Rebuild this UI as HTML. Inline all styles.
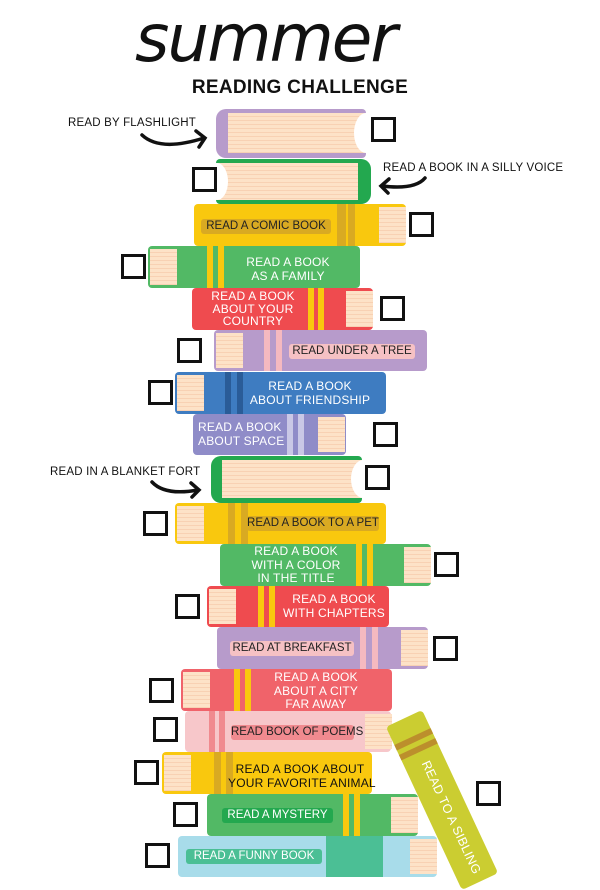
<!DOCTYPE html>
<html><head><meta charset="utf-8"><style>
*{margin:0;padding:0;box-sizing:border-box}
body{width:600px;height:888px;background:#fff;position:relative;overflow:hidden;font-family:"Liberation Sans",sans-serif}
.a{position:absolute}
.b{position:absolute;border-radius:4px}
.pg{position:absolute;top:3px;bottom:3px;width:27px;background:repeating-linear-gradient(#fde2c7 0 3px,#f8d1b3 3px 4px)}
.st{position:absolute;top:0;bottom:0;width:9px}
.cb{position:absolute;width:25px;height:25px;border:3px solid #111;background:#fff}
.t{position:absolute;text-align:center;color:#fff;font-size:12px;line-height:13.5px;letter-spacing:.2px;white-space:nowrap}
.pl{position:absolute;height:15px;border-radius:3px;font-size:11.5px;line-height:15px;text-align:center;color:#222;white-space:nowrap}
.n{position:absolute;font-size:11.5px;color:#111;white-space:nowrap;letter-spacing:.2px}
</style></head><body>

<div class="a" style="left:135px;top:0px;width:260px;text-align:center;font-family:'DejaVu Sans',sans-serif;font-size:66px;font-style:italic;letter-spacing:-2px;color:#111;font-weight:300">summer</div>
<div class="a" style="left:190px;top:77px;width:220px;text-align:center;font-weight:bold;font-size:19px;color:#111;letter-spacing:.3px">READING CHALLENGE</div>

<!-- annotations -->
<div class="n" style="left:68px;top:117px">READ BY FLASHLIGHT</div>
<div class="n" style="left:383px;top:162px">READ A BOOK IN A SILLY VOICE</div>
<div class="n" style="left:50px;top:466px">READ IN A BLANKET FORT</div>
<svg class="a" style="left:0;top:0" width="600" height="888">
<g fill="none" stroke="#111" stroke-width="3.5" stroke-linecap="round">
<path d="M142 135 Q160 152 204 138"/><path d="M196 131 L205 138 L199 147"/>
<path d="M425 178 Q415 190 382 186"/><path d="M389 179 L381 186 L388 193"/>
<path d="M152 482 Q165 496 198 490"/><path d="M191 483 L199 490 L192 497"/>
</g></svg>

<!-- 1 purple -->
<div class="b" style="left:216px;top:109px;width:150px;height:49px;background:#b79bcb;border-radius:10px 4px 4px 10px"></div>
<div class="pg" style="left:228px;top:113px;width:138px;height:40px;bottom:auto"></div>
<div class="a" style="left:354px;top:113px;width:24px;height:40px;background:#fff;border-radius:50%"></div>
<div class="cb" style="left:371px;top:117px"></div>
<!-- 2 green -->
<div class="b" style="left:216px;top:159px;width:155px;height:45px;background:#23a84f;border-radius:4px 10px 10px 4px"></div>
<div class="pg" style="left:216px;top:163px;width:142px;height:37px;bottom:auto"></div>
<div class="a" style="left:206px;top:163px;width:22px;height:37px;background:#fff;border-radius:50%"></div>
<div class="cb" style="left:192px;top:167px"></div>
<!-- 3 yellow comic -->
<div class="b" style="left:194px;top:204px;width:212px;height:42px;background:#f9c80e"></div>
<div class="st" style="left:337px;top:204px;height:42px;background:#d9aa22"></div>
<div class="st" style="left:348px;top:204px;height:42px;background:#d9aa22;width:7px"></div>
<div class="pg" style="left:379px;top:207px;height:36px;bottom:auto"></div>
<div class="pl" style="left:201px;top:219px;width:130px;background:#d9aa22">READ A COMIC BOOK</div>
<div class="cb" style="left:409px;top:212px"></div>
<!-- 4 green family -->
<div class="b" style="left:148px;top:246px;width:212px;height:42px;background:#52b965"></div>
<div class="pg" style="left:150px;top:249px;height:36px;bottom:auto"></div>
<div class="st" style="left:207px;top:246px;height:42px;width:6px;background:#f9c80e"></div>
<div class="st" style="left:218px;top:246px;height:42px;width:6px;background:#f9c80e"></div>
<div class="t" style="left:228px;top:256px;width:120px">READ A BOOK<br>AS A FAMILY</div>
<div class="cb" style="left:121px;top:254px"></div>
<!-- 5 red country -->
<div class="b" style="left:192px;top:288px;width:181px;height:42px;background:#ef4b4f"></div>
<div class="st" style="left:308px;top:288px;height:42px;width:6px;background:#f9c80e"></div>
<div class="st" style="left:318px;top:288px;height:42px;width:6px;background:#f9c80e"></div>
<div class="pg" style="left:346px;top:291px;height:36px;bottom:auto"></div>
<div class="t" style="left:196px;top:290px;width:114px;line-height:12.5px">READ A BOOK<br>ABOUT YOUR<br>COUNTRY</div>
<div class="cb" style="left:380px;top:296px"></div>
<!-- 6 purple tree -->
<div class="b" style="left:214px;top:330px;width:213px;height:41px;background:#b79bcb"></div>
<div class="pg" style="left:216px;top:333px;height:35px;bottom:auto"></div>
<div class="st" style="left:264px;top:330px;height:41px;width:6px;background:#f5b9c0"></div>
<div class="st" style="left:276px;top:330px;height:41px;width:6px;background:#f5b9c0"></div>
<div class="pl" style="left:289px;top:344px;width:126px;background:#f6c1c4">READ UNDER A TREE</div>
<div class="cb" style="left:177px;top:338px"></div>
<!-- 7 blue friendship -->
<div class="b" style="left:175px;top:372px;width:211px;height:42px;background:#3e7cc1"></div>
<div class="pg" style="left:177px;top:375px;height:36px;bottom:auto"></div>
<div class="st" style="left:225px;top:372px;height:42px;width:6px;background:#2a5c98"></div>
<div class="st" style="left:237px;top:372px;height:42px;width:6px;background:#2a5c98"></div>
<div class="t" style="left:245px;top:380px;width:130px">READ A BOOK<br>ABOUT FRIENDSHIP</div>
<div class="cb" style="left:148px;top:380px"></div>
<!-- 8 lavender space -->
<div class="b" style="left:193px;top:414px;width:153px;height:41px;background:#8f8cc8"></div>
<div class="st" style="left:287px;top:414px;height:41px;width:6px;background:#c9c8e6"></div>
<div class="st" style="left:298px;top:414px;height:41px;width:6px;background:#c9c8e6"></div>
<div class="pg" style="left:318px;top:417px;height:35px;bottom:auto"></div>
<div class="t" style="left:198px;top:421px;width:90px;text-align:left">READ A BOOK<br>ABOUT SPACE</div>
<div class="cb" style="left:373px;top:422px"></div>
<!-- 9 green fort -->
<div class="b" style="left:211px;top:456px;width:151px;height:47px;background:#23a84f;border-radius:10px 4px 4px 10px"></div>
<div class="pg" style="left:222px;top:460px;width:140px;height:38px;bottom:auto"></div>
<div class="a" style="left:351px;top:460px;width:24px;height:38px;background:#fff;border-radius:50%"></div>
<div class="cb" style="left:365px;top:465px"></div>
<!-- 10 yellow pet -->
<div class="b" style="left:175px;top:503px;width:211px;height:41px;background:#f9c80e"></div>
<div class="pg" style="left:177px;top:506px;height:35px;bottom:auto"></div>
<div class="st" style="left:228px;top:503px;height:41px;width:7px;background:#d9aa22"></div>
<div class="st" style="left:241px;top:503px;height:41px;width:7px;background:#d9aa22"></div>
<div class="pl" style="left:247px;top:516px;width:132px;background:#d9aa22">READ A BOOK TO A PET</div>
<div class="cb" style="left:143px;top:511px"></div>
<!-- 11 green color -->
<div class="b" style="left:220px;top:544px;width:211px;height:42px;background:#52b965"></div>
<div class="st" style="left:356px;top:544px;height:42px;width:6px;background:#f9c80e"></div>
<div class="st" style="left:367px;top:544px;height:42px;width:6px;background:#f9c80e"></div>
<div class="pg" style="left:404px;top:547px;height:36px;bottom:auto"></div>
<div class="t" style="left:236px;top:545px;width:120px;line-height:13.5px">READ A BOOK<br>WITH A COLOR<br>IN THE TITLE</div>
<div class="cb" style="left:434px;top:552px"></div>
<!-- 12 red chapters -->
<div class="b" style="left:207px;top:586px;width:182px;height:41px;background:#ef4b4f"></div>
<div class="pg" style="left:209px;top:589px;height:35px;bottom:auto"></div>
<div class="st" style="left:258px;top:586px;height:41px;width:6px;background:#f9c80e"></div>
<div class="st" style="left:269px;top:586px;height:41px;width:6px;background:#f9c80e"></div>
<div class="t" style="left:280px;top:593px;width:108px">READ A BOOK<br>WITH CHAPTERS</div>
<div class="cb" style="left:175px;top:594px"></div>
<!-- 13 purple breakfast -->
<div class="b" style="left:217px;top:627px;width:211px;height:42px;background:#b79bcb"></div>
<div class="st" style="left:360px;top:627px;height:42px;width:6px;background:#f5b9c0"></div>
<div class="st" style="left:372px;top:627px;height:42px;width:6px;background:#f5b9c0"></div>
<div class="pg" style="left:401px;top:630px;height:36px;bottom:auto"></div>
<div class="pl" style="left:230px;top:641px;width:124px;background:#f6c1c4">READ AT BREAKFAST</div>
<div class="cb" style="left:433px;top:636px"></div>
<!-- 14 red city -->
<div class="b" style="left:181px;top:669px;width:211px;height:42px;background:#f0636a"></div>
<div class="pg" style="left:183px;top:672px;height:36px;bottom:auto"></div>
<div class="st" style="left:234px;top:669px;height:42px;width:6px;background:#f9c80e"></div>
<div class="st" style="left:245px;top:669px;height:42px;width:6px;background:#f9c80e"></div>
<div class="t" style="left:256px;top:671px;width:120px;line-height:13.5px;overflow:hidden;height:40px">READ A BOOK<br>ABOUT A CITY<br>FAR AWAY</div>
<div class="cb" style="left:149px;top:678px"></div>
<!-- 15 pink poems -->
<div class="b" style="left:185px;top:711px;width:206px;height:41px;background:#f7c7ca"></div>
<div class="st" style="left:209px;top:711px;height:41px;width:6px;background:#f08a8f"></div>
<div class="st" style="left:219px;top:711px;height:41px;width:6px;background:#f08a8f"></div>
<div class="pg" style="left:365px;top:714px;height:35px;bottom:auto"></div>
<div class="pl" style="left:231px;top:725px;width:123px;background:#f08a8f">READ BOOK OF POEMS</div>
<div class="cb" style="left:153px;top:717px"></div>
<!-- 16 yellow animal -->
<div class="b" style="left:162px;top:752px;width:210px;height:42px;background:#f9c80e"></div>
<div class="pg" style="left:164px;top:755px;height:36px;bottom:auto"></div>
<div class="st" style="left:214px;top:752px;height:42px;width:7px;background:#d9aa22"></div>
<div class="st" style="left:226px;top:752px;height:42px;width:7px;background:#d9aa22"></div>
<div class="t" style="left:228px;top:763px;width:144px;color:#111">READ A BOOK ABOUT<br>YOUR FAVORITE ANIMAL</div>
<div class="cb" style="left:134px;top:760px"></div>
<!-- 17 green mystery -->
<div class="b" style="left:207px;top:794px;width:211px;height:42px;background:#52b965"></div>
<div class="st" style="left:343px;top:794px;height:42px;width:6px;background:#f9c80e"></div>
<div class="st" style="left:354px;top:794px;height:42px;width:6px;background:#f9c80e"></div>
<div class="pg" style="left:391px;top:797px;height:36px;bottom:auto"></div>
<div class="pl" style="left:222px;top:808px;width:111px;background:#23a84f;color:#fff">READ A MYSTERY</div>
<div class="cb" style="left:173px;top:802px"></div>
<!-- 18 blue funny -->
<div class="b" style="left:178px;top:836px;width:259px;height:41px;background:#a8dcea"></div>
<div class="a" style="left:326px;top:836px;width:57px;height:41px;background:#4bbf95"></div>
<div class="pg" style="left:410px;top:839px;height:35px;bottom:auto"></div>
<div class="pl" style="left:186px;top:849px;width:136px;background:#4bbf95;color:#fff">READ A FUNNY BOOK</div>
<div class="cb" style="left:145px;top:843px"></div>
<!-- 19 lime sibling -->
<div class="a" style="left:422px;top:710px;width:40px;height:180px;background:#cbcd31;border-radius:4px;transform:rotate(-25deg);transform-origin:50% 50%">
 <div class="a" style="left:0;top:20px;width:40px;height:6px;background:#bc8f2c"></div>
 <div class="a" style="left:0;top:31px;width:40px;height:6px;background:#bc8f2c"></div>
 <div class="a" style="top:48px;transform:rotate(90deg);transform-origin:0 0;left:28px;color:#fff;font-size:12.5px;white-space:nowrap;letter-spacing:.3px">READ TO A SIBLING</div>
</div>
<div class="cb" style="left:476px;top:781px"></div>
</body></html>
